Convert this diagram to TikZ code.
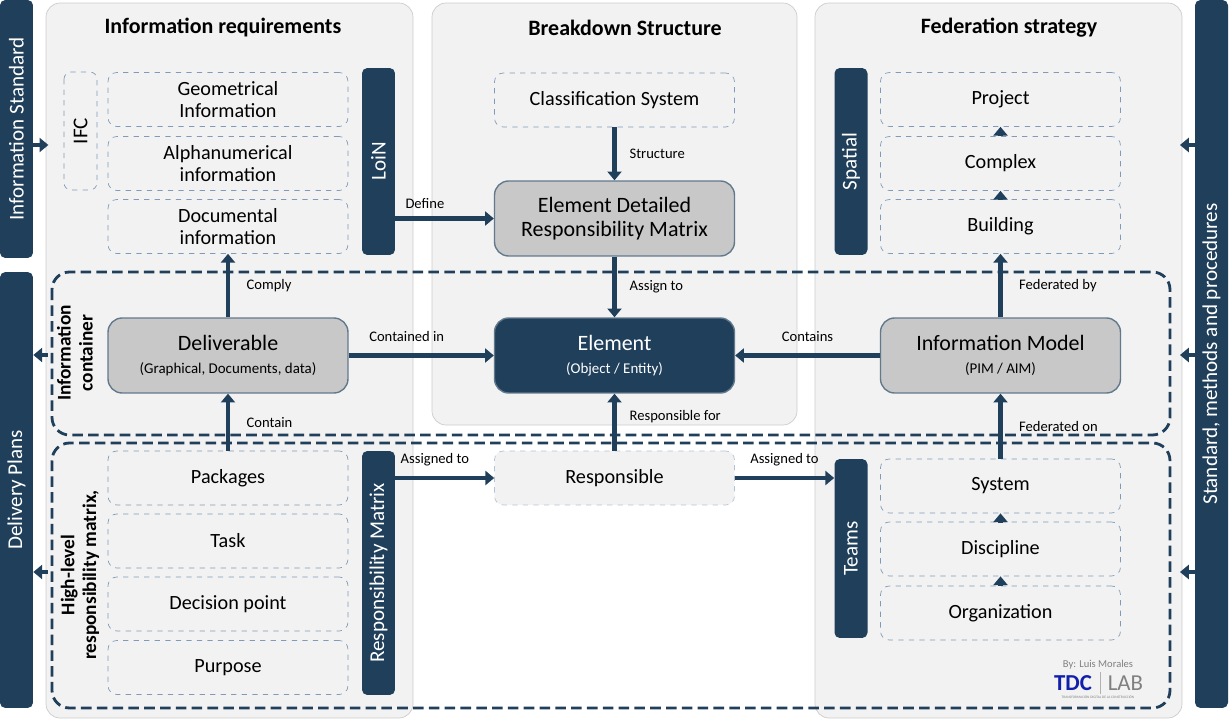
\documentclass[tikz,border=0pt]{standalone}
\usepackage{fontspec}
\setmainfont{Carlito}
\usetikzlibrary{arrows.meta, positioning}
\definecolor{navy}{HTML}{1F3F5B}
\definecolor{dashblue}{HTML}{7F9BB8}
\definecolor{panelgray}{HTML}{F2F2F2}
\definecolor{boxgray}{HTML}{C8C8C8}

\begin{document}
\begin{tikzpicture}[
    x=0.02cm, y=-0.02cm,
    panel/.style={draw=gray!40, fill=panelgray, rounded corners=8pt},
    title/.style={font=\bfseries\fontsize{12.5}{14}\selectfont},
    item/.style={rectangle, draw=dashblue, dashed, fill=panelgray, rounded corners=5pt, minimum width=4.8cm, minimum height=1.08cm, align=center, font=\fontsize{11.5}{13}\selectfont},
    main/.style={rectangle, draw=navy!70, thick, fill=boxgray, rounded corners=8pt, minimum width=4.8cm, minimum height=1.5cm, align=center, font=\fontsize{12.5}{14}\selectfont},
    bar/.style={rectangle, fill=navy, rounded corners=3pt, rotate=90, text=white, minimum height=0.66cm, align=center, font=\fontsize{12}{14}\selectfont},
    group/.style={draw=navy, dashed, line width=1.6pt, dash pattern=on 6pt off 3pt, rounded corners=10pt},
    arrow/.style={-{Triangle[width=8pt, length=5pt]}, line width=2.6pt, navy},
    tip/.style={text=black, font=\fontsize{8.3}{9}\selectfont},
    sidetext/.style={rotate=90, align=center, font=\bfseries\fontsize{11}{12.5}\selectfont}
]
    \useasboundingbox (0,0) rectangle (1232,720);
    % panels
    \draw[panel] (46,3) rectangle (413,718);
    \draw[panel] (432,3) rectangle (797,425);
    \draw[panel] (815,3) rectangle (1182,718);
    \node[title] at (223,28) {Information requirements};
    \node[title] at (625,28) {Breakdown Structure};
    \node[title] at (1009,28) {Federation strategy};

    % groups
    \draw[group] (52,272) rectangle (1170,435);
    \draw[group] (52,443) rectangle (1170,708);
    \node[sidetext] (container) at (75,353) {Information\\container};
    \node[sidetext] (highlevel) at (80,575) {High-level\\responsibility matrix,};

    % outer bars
    \node[bar, minimum width=5.16cm] (standard) at (16.5,129) {Information Standard};
    \node[bar, minimum width=8.72cm] (delivery) at (16.5,490) {Delivery Plans};
    \node[bar, minimum width=14.16cm] (methods) at (1211.5,354) {Standard, methods and procedures};

    % information requirements
    \node[rectangle, draw=dashblue, dashed, rounded corners=4pt, rotate=90, minimum width=2.36cm, minimum height=0.66cm, font=\fontsize{12}{14}\selectfont] (ifc) at (80.5,131) {IFC};
    \node[item] (geo) at (228,99.5) {Geometrical\\Information};
    \node[item] (alpha) at (228,163.5) {Alphanumerical\\information};
    \node[item] (doc) at (228,226.5) {Documental\\information};
    \node[bar, minimum width=3.74cm] (loin) at (378.5,161.5) {LoiN};

    % breakdown structure
    \node[item] (class) at (614.5,100) {Classification System};
    \node[main] (edrm) at (614.5,218.5) {Element Detailed\\Responsibility Matrix};

    % federation strategy
    \node[bar, minimum width=3.74cm] (spatial) at (851,161.5) {Spatial};
    \node[item] (project) at (1000.5,99.5) {Project};
    \node[item] (complex) at (1000.5,163.5) {Complex};
    \node[item] (building) at (1000.5,226.5) {Building};

    % information container
    \node[main] (deliverable) at (228,355.5) {Deliverable\\[-1pt]{\fontsize{8.5}{10}\selectfont (Graphical, Documents, data)}};
    \node[main, fill=navy, text=white] (element) at (614.5,355.5) {Element\\[-1pt]{\fontsize{8.5}{10}\selectfont (Object / Entity)}};
    \node[main] (model) at (1000.5,355.5) {Information Model\\[-1pt]{\fontsize{8.5}{10}\selectfont (PIM / AIM)}};

    % responsibility
    \node[item] (packages) at (228,478) {Packages};
    \node[item] (task) at (228,541) {Task};
    \node[item] (decision) at (228,604) {Decision point};
    \node[item] (purpose) at (228,667.5) {Purpose};
    \node[bar, minimum width=4.88cm] (respmatrix) at (378.5,573) {Responsibility Matrix};
    \node[item, draw=dashblue!60] (responsible) at (614.5,478) {Responsible};
    \node[bar, minimum width=3.58cm] (teams) at (851,548.5) {Teams};
    \node[item] (system) at (1000.5,486) {System};
    \node[item] (discipline) at (1000.5,549) {Discipline};
    \node[item] (organization) at (1000.5,613) {Organization};

    % side arrows
    \draw[arrow] (standard.south |- 0,145) -- ++(15,0);
    \draw[arrow] (48,355) -- (delivery.south |- 0,355);
    \draw[arrow] (48,572) -- (delivery.south |- 0,572);
    \draw[arrow] (methods.north |- 0,145) -- (1180,145);
    \draw[arrow] (methods.north |- 0,355) -- (1180,355);
    \draw[arrow] (methods.north |- 0,572) -- (1180,572);

    % connectors
    \draw[arrow] (class) -- node[tip, right=4pt] {Structure} (edrm);
    \draw[arrow] (loin.south |- edrm) -- node[tip, above=1pt, pos=0.3] {Define} (edrm);
    \draw[arrow] (edrm) -- node[tip, right=4pt] {Assign to} (element);
    \draw[arrow] (deliverable) -- node[tip, above=3pt, pos=0.4] {Contained in} (element);
    \draw[arrow] (model) -- node[tip, above=3pt] {Contains} (element);
    \draw[arrow] (deliverable) -- node[tip, right=6pt] {Comply} (doc);
    \draw[arrow] (packages) -- node[tip, right=6pt] {Contain} (deliverable);
    \draw[arrow] (responsible) -- node[tip, right=4pt, pos=0.6] {Responsible for} (element);
    \draw[arrow] (respmatrix.south |- responsible) -- node[tip, above=2pt, pos=0.4] {Assigned to} (responsible);
    \draw[arrow] (responsible) -- node[tip, above=2pt, pos=0.5] {Assigned to} (teams.north |- responsible);
    \draw[arrow] (system) -- node[tip, right=6pt] {Federated on} (model);
    \draw[arrow] (model) -- node[tip, right=6pt] {Federated by} (building);
    \draw[arrow] (building) -- (complex);
    \draw[arrow] (complex) -- (project);
    \draw[arrow] (organization) -- (discipline);
    \draw[arrow] (discipline) -- (system);

    % signature
    \node[font=\fontsize{6}{7}\selectfont, text=gray] (author) at (1098,665) {By: Luis Morales};
    \node[font=\bfseries\fontsize{13}{14}\selectfont, text=blue!50!navy] (tdc) at (1073,683) {TDC};
    \node[font=\fontsize{13}{14}\selectfont, text=gray, right=2pt of tdc] (lab) {LAB};
    \draw[gray!60] (tdc.east) ++(1pt,-6pt) -- ++(0,12pt);
    \node[font=\fontsize{2}{2}\selectfont, text=gray] (motto) at (1098,697) {TRANSFORMACIÓN DIGITAL DE LA CONSTRUCCIÓN};
\end{tikzpicture}
\end{document}
